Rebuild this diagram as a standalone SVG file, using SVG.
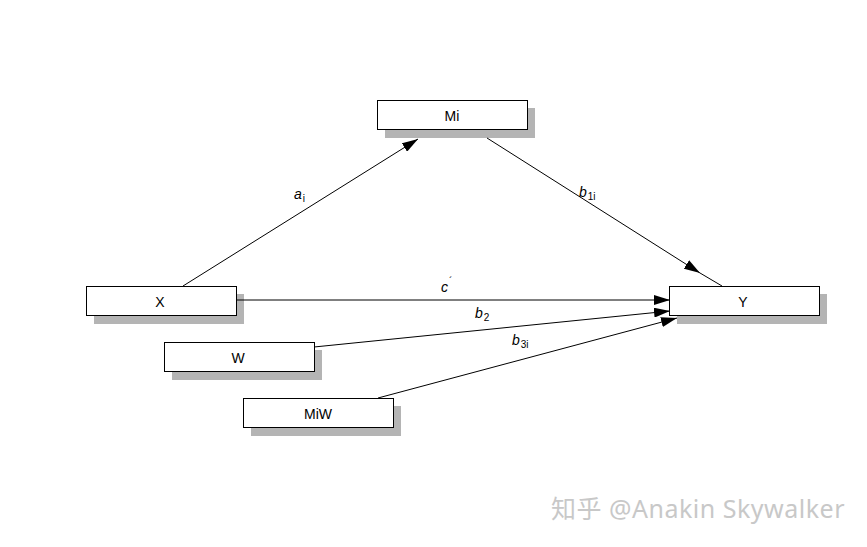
<svg xmlns="http://www.w3.org/2000/svg" width="867" height="547" viewBox="0 0 867 547">
<style>
.sh{fill:#b4b4b4}.bx{fill:#fff;stroke:#000;stroke-width:1}
.t{font-family:"Liberation Sans",Arial,sans-serif;font-size:14px;text-anchor:middle}
.l{font-family:"Liberation Sans",Arial,sans-serif;font-size:14px;font-style:italic}
.s{font-size:10px;font-style:normal}
.c line{stroke:#000;stroke-width:1}
</style>
<defs><marker id="a" markerWidth="16" markerHeight="10" refX="16" refY="5" orient="auto" markerUnits="userSpaceOnUse"><path d="M0,0L16,5L0,10z" fill="#000"/></marker></defs>
<rect width="867" height="547" fill="#fff"/>
<g id="Mi"><rect class="sh" x="385" y="108" width="150" height="30"/><rect class="bx" x="377.5" y="100.5" width="150" height="29"/><text class="t" x="452" y="121">Mi</text></g>
<g id="X"><rect class="sh" x="94" y="294" width="150" height="30"/><rect class="bx" x="86.5" y="286.5" width="150" height="29"/><text class="t" x="160" y="307">X</text></g>
<g id="W"><rect class="sh" x="172" y="350" width="150" height="30"/><rect class="bx" x="164.5" y="342.5" width="150" height="29"/><text class="t" x="238" y="363">W</text></g>
<g id="MiW"><rect class="sh" x="251" y="406" width="150" height="30"/><rect class="bx" x="243.5" y="398.5" width="150" height="29"/><text class="t" x="318" y="419">MiW</text></g>
<g id="Y"><rect class="sh" x="677" y="294" width="150" height="30"/><rect class="bx" x="669.5" y="286.5" width="150" height="29"/><text class="t" x="743" y="307">Y</text></g>
<g class="c" id="connectors">
<line x1="183" y1="286" x2="418" y2="139" marker-end="url(#a)"/>
<line x1="487" y1="138" x2="700" y2="273" marker-end="url(#a)"/>
<line x1="700" y1="273" x2="722" y2="286"/>
<line x1="236" y1="300" x2="670" y2="300" marker-end="url(#a)"/>
<line x1="314" y1="347" x2="670" y2="311" marker-end="url(#a)"/>
<line x1="378" y1="398" x2="677" y2="318" marker-end="url(#a)"/>
</g>
<text class="l" x="294" y="199">a<tspan class="s" dx="1" dy="3">i</tspan></text>
<text class="l" x="579" y="197">b<tspan class="s" dx="1" dy="3">1i</tspan></text>
<text class="l" x="441" y="292">c<tspan class="s" dx="1" dy="-7">´</tspan></text>
<text class="l" x="475" y="318">b<tspan class="s" dx="1" dy="3">2</tspan></text>
<text class="l" x="512" y="345">b<tspan class="s" dx="1" dy="3">3i</tspan></text>
<text x="845" y="518" text-anchor="end" font-family="'Noto Sans','Noto Sans CJK SC',sans-serif" font-size="25" letter-spacing="0.5" fill="#c8c8c8">知乎 @Anakin Skywalker</text>
</svg>
